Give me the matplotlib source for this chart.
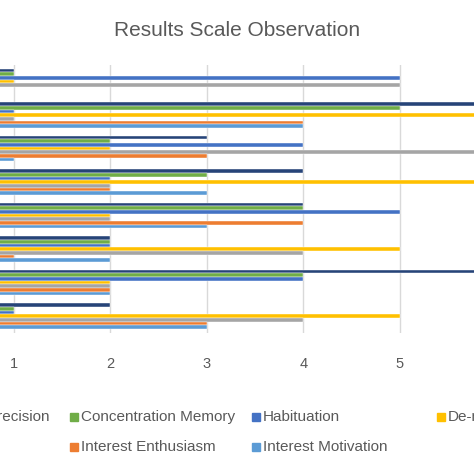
import matplotlib
matplotlib.use("Agg")
import matplotlib.pyplot as plt
import numpy as np
from matplotlib.patches import Rectangle

plt.rcParams['font.family'] = ['Liberation Sans', 'DejaVu Sans']

groups = ["G1", "G2", "G3", "G4", "G5", "G6", "G7", "G8"]
series = ["Precision", "Concentration Memory", "Habituation", "De-motivation",
          "Other", "Interest Enthusiasm", "Interest Motivation"]
colors = ["#264478", "#70AD47", "#4472C4", "#FFC000", "#A5A5A5", "#ED7D31", "#5B9BD5"]
precision = [1, 6, 3, 4, 4, 2, 6, 2]
concentration = [1, 5, 2, 3, 4, 2, 4, 1]
habituation = [5, 1, 4, 2, 5, 2, 4, 1]
demotivation = [1, 6, 2, 6, 2, 5, 2, 5]
other = [5, 1, 6, 2, 2, 4, 2, 4]
enthusiasm = [0, 4, 3, 2, 4, 1, 2, 3]
motivation = [0, 4, 1, 3, 3, 2, 2, 3]
data = [precision, concentration, habituation, demotivation, other, enthusiasm, motivation]

fig = plt.figure(figsize=(4.74, 4.74), dpi=100)
ax = fig.add_axes([0, 1 - 333/474, 1, (333 - 65)/474])
y = np.arange(len(groups))
h = 0.11
for i, (vals, c) in enumerate(zip(data, colors)):
    ax.barh(y - 0.39 + h/2 + i*h, vals, height=h, color=c, edgecolor='white', linewidth=0.3, zorder=3)
ax.set_ylim(len(groups) - 0.5, -0.5)
ax.set_xlim(0.855, 5.77)
ax.set_xticks([1, 2, 3, 4, 5])
ax.set_yticks([])
ax.grid(axis='x', color='#D9D9D9', linewidth=1, zorder=0)
for s in ax.spines.values():
    s.set_visible(False)
ax.tick_params(axis='x', length=0, pad=17, labelsize=10.5, labelcolor='#595959')

fig.text(0.5, 1 - 30/474, "Results Scale Observation", ha='center', va='center', fontsize=15, color='#595959')

def leg(xsq, ytop, label, color):
    if color is not None:
        fig.patches.append(Rectangle((xsq/474, 1 - (ytop + 4)/474), 8/474, 8/474,
                                     transform=fig.transFigure, color=color))
        fig.text((xsq + 11)/474, 1 - ytop/474, label, ha='left', va='center', fontsize=11, color='#595959')
    else:
        fig.text(xsq/474, 1 - ytop/474, label, ha='right', va='center', fontsize=11, color='#595959')

leg(50, 417, "Precision", None)
leg(70, 417, "Concentration Memory", colors[1])
leg(252, 417, "Habituation", colors[2])
leg(437, 417, "De-motivation", colors[3])
leg(70, 447, "Interest Enthusiasm", colors[5])
leg(252, 447, "Interest Motivation", colors[6])

fig.savefig("out.png", dpi=100)
